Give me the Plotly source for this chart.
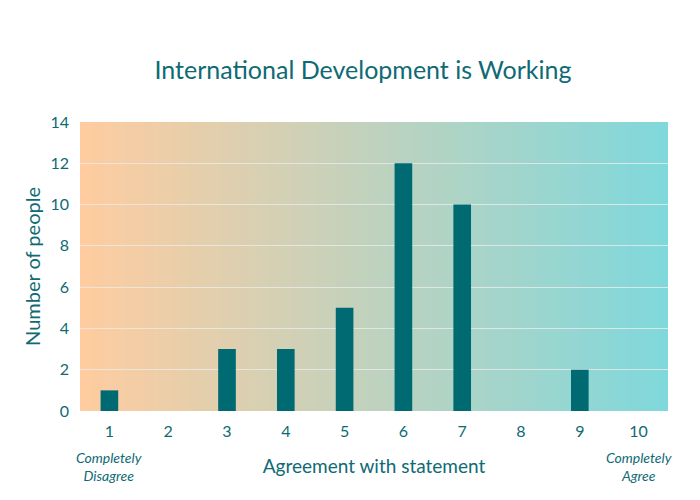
import base64
import struct
import zlib

import plotly.graph_objects as go

ratings = [1, 2, 3, 4, 5, 6, 7, 8, 9, 10]
people = [1, 0, 3, 3, 5, 12, 10, 0, 2, 0]
y_ticks = [0, 2, 4, 6, 8, 10, 12, 14]

TEAL = "#0e6a74"
BAR = "#006a72"
FONT = "Lato"


def gradient_png(left, right, width=256):
    # one-row png, stretched over the plot area as background
    row = b"\x00"
    for i in range(width):
        t = i / (width - 1)
        row += bytes(int(round(left[k] + (right[k] - left[k]) * t)) for k in range(3))

    def chunk(tag, data):
        c = struct.pack(">I", len(data)) + tag + data
        return c + struct.pack(">I", zlib.crc32(tag + data) & 0xFFFFFFFF)

    png = b"\x89PNG\r\n\x1a\n"
    png += chunk(b"IHDR", struct.pack(">IIBBBBB", width, 1, 8, 2, 0, 0, 0))
    png += chunk(b"IDAT", zlib.compress(row))
    png += chunk(b"IEND", b"")
    return "data:image/png;base64," + base64.b64encode(png).decode()


fig = go.Figure()
fig.add_trace(go.Bar(
    x=ratings, y=people, width=0.3,
    marker=dict(color=BAR, line=dict(width=0)),
))

fig.add_layout_image(
    source=gradient_png((255, 204, 160), (128, 216, 220)),
    xref="paper", yref="paper", x=0, y=1, sizex=1, sizey=1,
    sizing="stretch", layer="below", xanchor="left", yanchor="top",
)

fig.add_annotation(text="<i>Completely<br>Disagree</i>", x=1, y=0, xref="x", yref="paper",
                   yshift=-36, yanchor="top", showarrow=False,
                   font=dict(size=14, color=TEAL, family=FONT))
fig.add_annotation(text="<i>Completely<br>Agree</i>", x=10, y=0, xref="x", yref="paper",
                   yshift=-36, yanchor="top", showarrow=False,
                   font=dict(size=14, color=TEAL, family=FONT))

# page body adds an 8px offset, so the figure is a little smaller than the window
fig.update_layout(
    width=692, height=492,
    margin=dict(l=72, r=32, t=114, b=89),
    paper_bgcolor="white",
    plot_bgcolor="rgba(0,0,0,0)",
    showlegend=False,
    font=dict(family=FONT, color=TEAL),
    title=dict(text="International Development is Working", x=0.513, xanchor="center",
               y=0.874, yanchor="middle", font=dict(size=25, color=TEAL, family=FONT)),
    xaxis=dict(range=[0.5, 10.5], tickvals=ratings, showgrid=False, zeroline=False,
               automargin=False, tickfont=dict(size=16), ticks="", ticklabelstandoff=9,
               title=dict(text="Agreement with statement", font=dict(size=19), standoff=20)),
    yaxis=dict(range=[0, 14], tickvals=y_ticks, gridcolor="rgba(235,235,235,0.8)",
               gridwidth=1, zeroline=False, automargin=False, tickfont=dict(size=16),
               ticks="", ticklabelstandoff=10,
               title=dict(text="Number of people", font=dict(size=20), standoff=4)),
)

fig.write_html("out.html")
